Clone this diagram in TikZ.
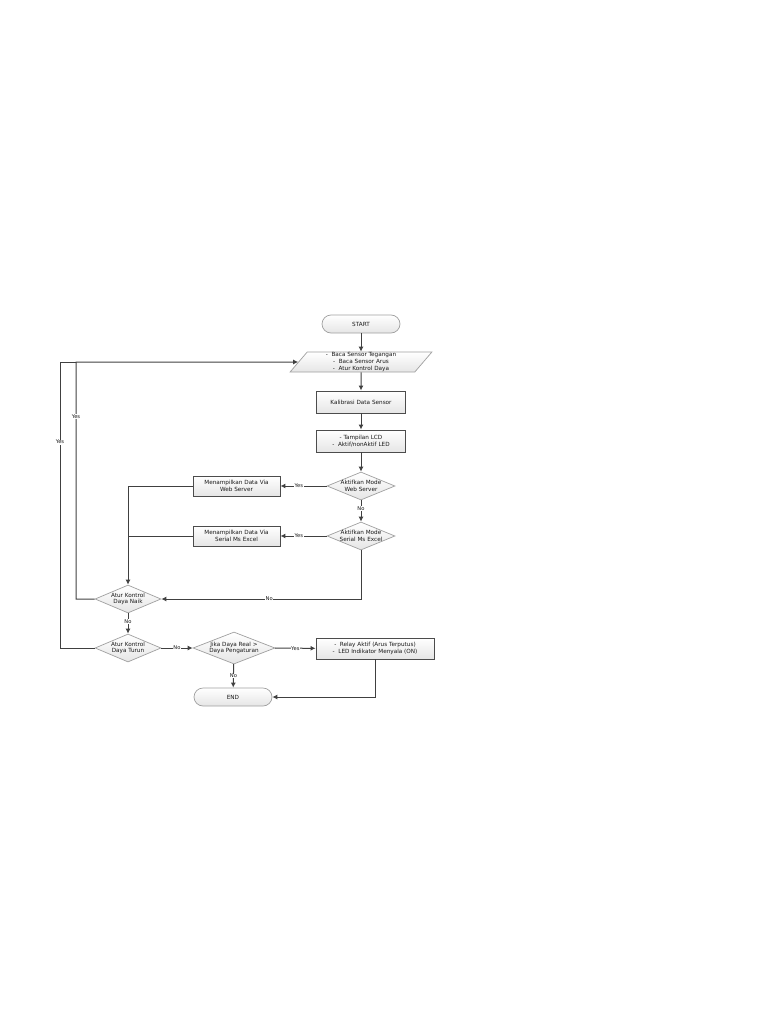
\documentclass[tikz,border=0pt]{standalone}
\usepackage{fontspec}
\setmainfont{DejaVu Sans}
\usetikzlibrary{shapes.geometric,arrows.meta}
\begin{document}
\begin{tikzpicture}[x=1pt,y=-1pt,
  every node/.style={font=\fontsize{5.7}{6.6}\selectfont, text=black!90},
  shp/.style={draw=gray!75, line width=0.7pt, top color=white, bottom color=gray!20},
  term/.style={shp, rounded corners=9pt, minimum width=78pt, minimum height=18pt, inner sep=0pt},
  proc/.style={shp, draw=black!70, line width=0.9pt, minimum width=89pt, minimum height=22pt, inner sep=0pt, align=center},
  dec/.style={shp, diamond, inner sep=0pt, minimum width=68pt, minimum height=28pt},
  io/.style={shp, trapezium, trapezium left angle=59, trapezium right angle=121, trapezium stretches=true, minimum width=143pt, minimum height=20pt, inner sep=0pt, align=center},
  conn/.style={draw=black!75, line width=1pt},
  arr/.style={conn, -{Latex[length=5pt,width=5pt]}},
  lab/.style={fill=white, inner sep=0.5pt, font=\fontsize{5.2}{6}\selectfont}
]
\useasboundingbox (0,0) rectangle (768,1024);

\node[term] (start) at (361,324) {START};
\node[io] (in) at (361,362) {-~ Baca Sensor Tegangan\\ -~ Baca Sensor Arus\\ -~ Atur Kontrol Daya};
\node[proc] (kal) at (361,402) {Kalibrasi Data Sensor};
\node[proc] (tam) at (361,441) {- Tampilan LCD\\ -~ Aktif/nonAktif LED};
\node[dec, label={[align=center]center:Aktifkan Mode\\Web Server}] (d1) at (361,486) {};
\node[dec, label={[align=center]center:Aktifkan Mode\\Serial Ms Excel}] (d2) at (361,536) {};
\node[proc, minimum width=87pt, minimum height=20pt] (m1) at (236.5,486) {Menampilkan Data Via\\Web Server};
\node[proc, minimum width=87pt, minimum height=20pt] (m2) at (236.5,536) {Menampilkan Data Via\\Serial Ms Excel};
\node[dec, minimum width=66pt, label={[align=center]center:Atur Kontrol\\Daya Naik}] (d3) at (128,599) {};
\node[dec, minimum width=66pt, label={[align=center]center:Atur Kontrol\\Daya Turun}] (d4) at (128,648) {};
\node[dec, minimum width=82pt, minimum height=32pt, label={[align=center]center:Jika Daya Real >\\Daya Pengaturan}] (d5) at (234,648) {};
\node[proc, minimum width=118pt, minimum height=21pt] (relay) at (375,648.5) {-~ Relay Aktif (Arus Terputus)\\ -~ LED Indikator Menyala (ON)};
\node[term] (end) at (233,697) {END};

\coordinate (c1) at (128,486);
\coordinate (c2) at (128,536);
\coordinate (y1) at (76,599);
\coordinate (y1t) at (76,362);
\coordinate (y2) at (60,648);
\coordinate (y2t) at (60,362);

\draw[arr] (start) -- (in);
\draw[arr] (in) -- (kal);
\draw[arr] (kal) -- (tam);
\draw[arr] (tam) -- (d1);
\draw[arr] (d1) -- node[lab, pos=0.6]{Yes} (m1);
\draw[arr] (d1) -- node[lab, pos=0.4]{No} (d2);
\draw[arr] (d2) -- node[lab, pos=0.6]{Yes} (m2);
\draw[conn] (m2.west) -- (c2);
\draw[arr] (m1.west) -- (c1) -- (d3.north);
\draw[arr] (d2.south) |- node[lab, pos=0.73]{No} (d3.east);
\draw[arr] (d3.west) -- (y1) -- node[lab, pos=0.77]{Yes} (y1t) -- (in.west);
\draw[conn] (d4.west) -- (y2) -- node[lab, pos=0.72]{Yes} (y2t) -- (y1t);
\draw[arr] (d3) -- node[lab, pos=0.4]{No} (d4);
\draw[arr] (d4) -- node[lab, pos=0.5]{No} (d5);
\draw[arr] (d5) -- node[lab, pos=0.5]{Yes} (relay);
\draw[arr] (d5) -- node[lab, pos=0.5]{No} (end);
\draw[arr] (relay.south) |- (end.east);
\end{tikzpicture}
\end{document}
